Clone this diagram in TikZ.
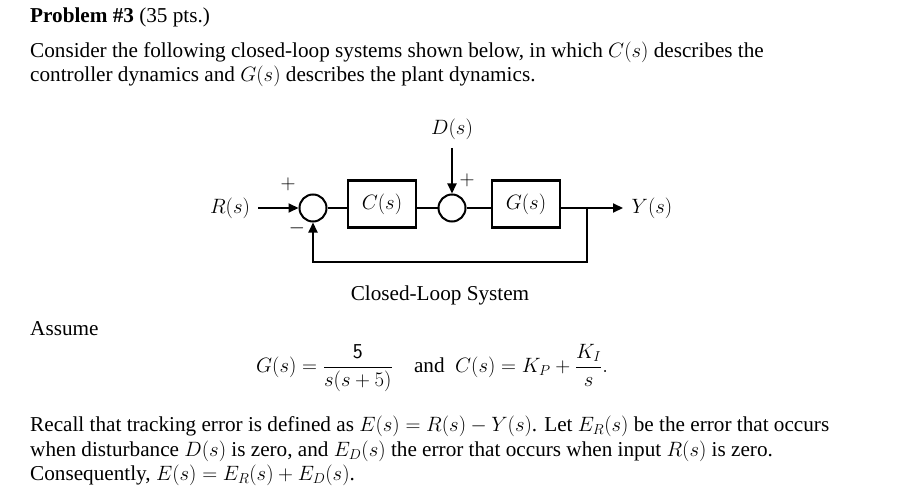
\documentclass[tikz,border=0pt]{standalone}
\usepackage{fontspec}
\setmainfont{Liberation Serif}
\usetikzlibrary{arrows.meta}
\begin{document}
\begin{tikzpicture}[x=1pt,y=-1pt,
  txt/.style={anchor=west,inner sep=0pt,font=\fontsize{21.2}{24}\selectfont},
  blk/.style={draw,line width=2.4pt,minimum width=68pt,minimum height=47pt,inner sep=0pt,font=\fontsize{21}{22}\selectfont},
  sumj/.style={draw,circle,line width=2pt,minimum size=27pt,inner sep=0pt},
  wire/.style={line width=2pt},
  arr/.style={wire,-{Triangle[length=10pt,width=9pt]}},
  lbl/.style={inner sep=0pt,font=\fontsize{21}{22}\selectfont}]
\useasboundingbox (0,0) rectangle (920,497);
\node[txt] (t1) at (30,17) {\textbf{Problem \#3} (35 pts.)};
\node[txt] (t2) at (30,52) {Consider the following closed-loop systems shown below, in which $C(s)$ describes the};
\node[txt] (t3) at (30,76) {controller dynamics and $G(s)$ describes the plant dynamics.};
% diagram
\node[lbl] (R) at (230,208) {$R(s)$};
\node[sumj] (s1) at (313,208) {};
\node[blk] (C) at (382,204) {$C(s)$};
\node[sumj] (s2) at (452,208) {};
\node[blk] (G) at (526,204) {$G(s)$};
\node[lbl] (Y) at (652,208) {$Y(s)$};
\node[lbl] (D) at (452,129) {$D(s)$};
\coordinate (Rs) at (258,208);
\coordinate (Ds) at (452,148);
\coordinate (br) at (587,208);
\coordinate (ye) at (623,208);
\coordinate (fb) at (587,262);
\coordinate (fb2) at (313,262);
\draw[arr] (Rs) -- (s1.west);
\draw[wire] (s1.east) -- (C.west|-s1);
\draw[wire] (C.east|-s2) -- (s2.west);
\draw[wire] (s2.east) -- (G.west|-s2);
\draw[arr] (G.east|-br) -- (ye);
\draw[arr] (br) -- (fb) -- (fb2) -- (s1.south);
\draw[arr] (Ds) -- (s2.north);
\node[lbl] (p1) at (288,184) {$+$};
\node[lbl] (m1) at (297,228) {$-$};
\node[lbl] (p2) at (467,180) {$+$};
\node[txt,anchor=center] (cls) at (440,295) {Closed-Loop System};
\node[txt] (as) at (30,329) {Assume};
\node[txt] (eq) at (256,368) {$\displaystyle G(s)=\frac{\textsf{5}}{s(s+5)}$\quad and\ \ $\displaystyle C(s)=K_P+\frac{K_I}{s}.$};
\node[txt] (r1) at (30,426) {Recall that tracking error is defined as $E(s)=R(s)-Y(s)$. Let $E_R(s)$ be the error that occurs};
\node[txt] (r2) at (30,451) {when disturbance $D(s)$ is zero, and $E_D(s)$ the error that occurs when input $R(s)$ is zero.};
\node[txt] (r3) at (30,475) {Consequently, $E(s)=E_R(s)+E_D(s)$.};
\end{tikzpicture}
\end{document}
